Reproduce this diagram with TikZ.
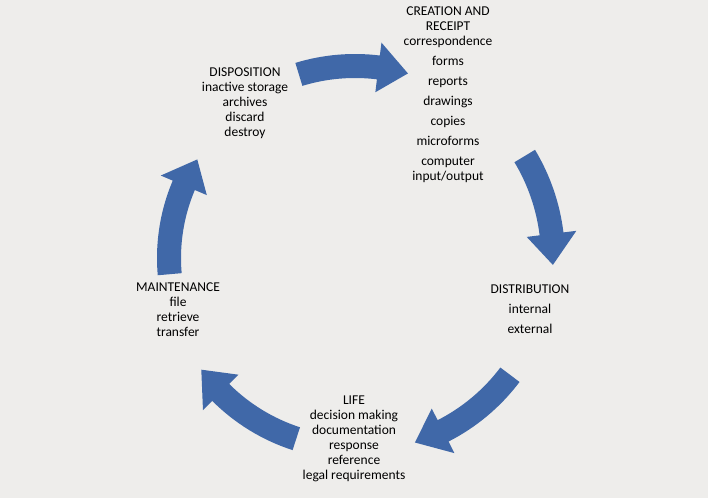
\documentclass[tikz,border=0pt]{standalone}
\usepackage{fontspec}
\setmainfont{Carlito}
\usetikzlibrary{calc}
\definecolor{bg}{HTML}{EEEDEB}
\definecolor{arr}{HTML}{4068A8}
\begin{document}
\begin{tikzpicture}[x=1pt,y=1pt,
  lbl/.style={font=\fontsize{13.5}{15}\selectfont,align=center,inner sep=0pt,text=black},
  cyc/.style={fill=arr,draw=none}]
\fill[bg] (0,0) rectangle (708,498);
\useasboundingbox (0,0) rectangle (708,498);
\coordinate (C) at (355,240);
% arrow: #1 start angle, #2 tip angle, #3 radius
\newcommand\cycarrow[3]{%
  \pgfmathsetmacro\ah{#2+9}%
  \pgfmathsetmacro\ro{#3+12}\pgfmathsetmacro\ri{#3-12}%
  \pgfmathsetmacro\hro{#3+25}\pgfmathsetmacro\hri{#3-25}%
  \fill[cyc] ($(C)+(#1:\ro)$) arc[start angle=#1,end angle=\ah,radius=\ro]
    -- ($(C)+(\ah:\hro)$) -- ($(C)+(#2:#3)$) -- ($(C)+(\ah:\hri)$)
    -- ($(C)+(\ah:\ri)$) arc[start angle=\ah,end angle=#1,radius=\ri] -- cycle;}
\cycarrow{107}{74}{192}
\cycarrow{31}{-2}{198}
\cycarrow{-37}{-72}{194}
\cycarrow{-108}{-144}{190}
\cycarrow{185}{148}{186}

\node[lbl,anchor=north] (cr) at (448,491) {CREATION AND\\RECEIPT\\correspondence\\[5pt]forms\\[5pt]reports\\[5pt]drawings\\[5pt]copies\\[5pt]microforms\\[5pt]computer\\input/output};
\node[lbl,anchor=north] (di) at (245,430) {DISPOSITION\\inactive storage\\archives\\discard\\destroy};
\node[lbl,anchor=north] (ds) at (530,213) {DISTRIBUTION\\[5pt]internal\\[5pt]external};
\node[lbl,anchor=north] (li) at (354,102) {LIFE\\decision making\\documentation\\response\\reference\\legal requirements};
\node[lbl,anchor=north] (ma) at (178,215) {MAINTENANCE\\file\\retrieve\\transfer};
\end{tikzpicture}
\end{document}
